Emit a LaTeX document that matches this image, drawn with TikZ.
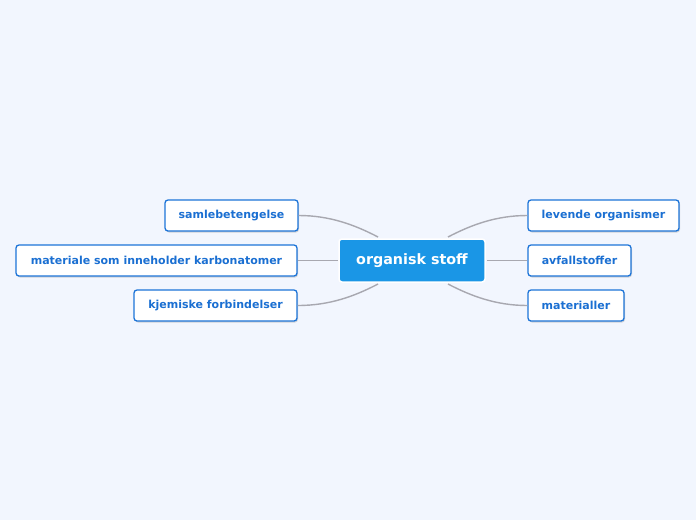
\documentclass[tikz,border=0pt]{standalone}
\usepackage{fontspec}
\setmainfont{DejaVu Sans}
\usetikzlibrary{shadows}
\definecolor{bg}{HTML}{F2F6FE}
\definecolor{bord}{HTML}{1C74D8}
\definecolor{txt}{HTML}{1A6FD2}
\definecolor{cfill}{HTML}{1A96E6}
\definecolor{lin}{HTML}{A8A8B0}
\tikzset{
  leaf/.style={draw=bord, line width=1.3pt, fill=white, rounded corners=3pt, text=txt,
    font=\bfseries\fontsize{11}{13}\selectfont, minimum height=31pt, inner xsep=0pt,
    drop shadow={shadow xshift=1pt, shadow yshift=-1.5pt, opacity=0.3}},
  root/.style={draw=white, line width=1.5pt, fill=cfill, rounded corners=3pt, text=white,
    font=\bfseries\fontsize{14.3}{16}\selectfont, minimum height=43pt, minimum width=146pt},
  conn/.style={draw=lin, line width=1.4pt}
}
\begin{document}
\begin{tikzpicture}[x=1pt,y=-1pt]
\fill[bg] (0,0) rectangle (696,520);
\useasboundingbox (0,0) rectangle (696,520);
\node[root] (c) at (412,260.5) {organisk stoff};
\node[leaf, minimum width=133pt] (l1) at (231.5,215.5) {samlebetengelse};
\node[leaf, minimum width=281pt] (l2) at (156.5,260.5) {materiale som inneholder karbonatomer};
\node[leaf, minimum width=163pt] (l3) at (215.5,305.5) {kjemiske forbindelser};
\node[leaf, minimum width=151pt] (r1) at (603.5,215.5) {levende organismer};
\node[leaf, minimum width=103pt] (r2) at (579.5,260.5) {avfallstoffer};
\node[leaf, minimum width=96pt] (r3) at (576,305.5) {materialler};
\coordinate (a1) at (378,237);
\coordinate (a2) at (338,260.5);
\coordinate (a3) at (378,284);
\coordinate (b1) at (448,237);
\coordinate (b2) at (487,260.5);
\coordinate (b3) at (448,284);
\draw[conn] (l1.east) .. controls (330,215.5) and (355,225) .. (a1);
\draw[conn] (l2.east) -- (a2);
\draw[conn] (l3.east) .. controls (330,305.5) and (355,296) .. (a3);
\draw[conn] (r1.west) .. controls (496,215.5) and (471,225) .. (b1);
\draw[conn] (r2.west) -- (b2);
\draw[conn] (r3.west) .. controls (496,305.5) and (471,296) .. (b3);
\end{tikzpicture}
\end{document}
